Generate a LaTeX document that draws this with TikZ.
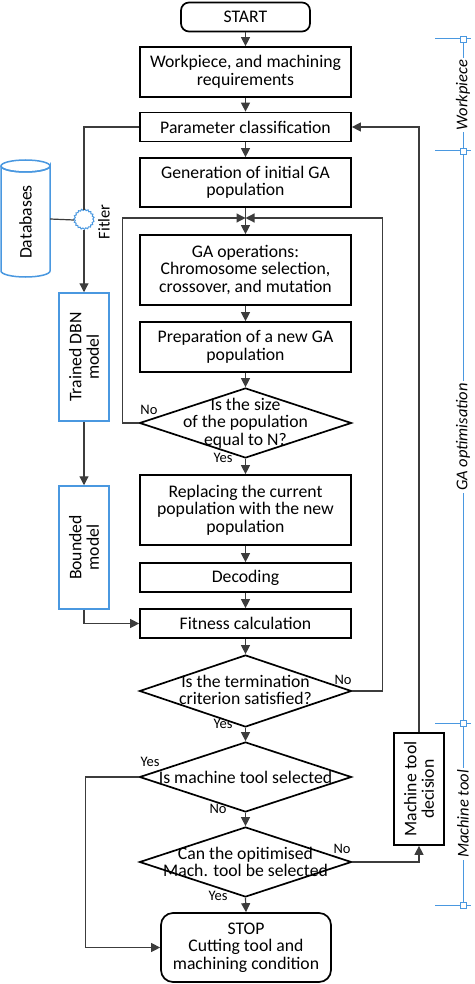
\documentclass[tikz,border=0pt]{standalone}
\usepackage{fontspec}
\setmainfont{Carlito}
\usetikzlibrary{arrows.meta,shapes.geometric,decorations.pathmorphing}
\definecolor{bl}{RGB}{74,152,224}
\definecolor{ln}{RGB}{60,60,60}
\begin{document}
\begin{tikzpicture}[x=1pt,y=-1pt,
  box/.style={draw=black,line width=1.7pt,minimum width=211pt,align=center,inner sep=0pt,font=\fontsize{17.7}{17.5}\selectfont},
  rbox/.style={box,rounded corners=8pt},
  bbox/.style={draw=bl,line width=1.5pt,rotate=90,align=center,minimum height=50pt,inner sep=0pt,font=\fontsize{17.7}{17.5}\selectfont},
  dia/.style={draw=black,line width=1.7pt,diamond,minimum width=212pt,minimum height=70pt,inner sep=0pt},
  dtext/.style={align=center,font=\fontsize{17.7}{17.5}\selectfont,inner sep=0pt},
  lab/.style={font=\fontsize{14.5}{15}\selectfont,inner sep=0pt},
  conn/.style={draw=ln,line width=1.2pt},
  arr/.style={conn,-{Triangle[length=9pt,width=9pt]}},
  tl/.style={draw=bl,line width=1pt},
  tlab/.style={fill=white,rotate=90,font=\fontsize{16.5}{17}\selectfont\itshape,inner sep=2pt},
]
\useasboundingbox (0,0) rectangle (474,984);

% main column
\node[rbox,minimum width=129pt,minimum height=29pt] (start) at (245.5,17) {START};
\node[box,minimum height=50pt] (work) at (245.5,72) {Workpiece, and machining\\requirements};
\node[box,minimum height=29pt] (param) at (245.5,127) {Parameter classification};
\node[box,minimum height=49pt] (gen) at (245.5,182.5) {Generation of initial GA\\population};
\node[box,minimum height=70pt] (gaop) at (245.5,270) {GA operations:\\Chromosome selection,\\crossover, and mutation};
\node[box,minimum height=50pt] (prep) at (245.5,347) {Preparation of a new GA\\population};
\node[dia] (d1) at (245.5,423) {};
\node[dtext] (t1) at (245.5,423) {Is the size\\of the population\\equal to N?};
\node[box,minimum height=70pt] (repl) at (245.5,510) {Replacing the current\\population with the new\\population};
\node[box,minimum height=29pt] (dec) at (245.5,577.5) {Decoding};
\node[box,minimum height=29pt] (fit) at (245.5,623.5) {Fitness calculation};
\node[dia,minimum height=72pt] (d2) at (245.5,691) {};
\node[dtext] (t2) at (245.5,690) {Is the termination\\criterion satisfied?};
\node[dia] (d3) at (245.5,777) {};
\node[dtext] (t3) at (245.5,777) {Is machine tool selected};
\node[dia] (d4) at (245.5,862) {};
\node[dtext] (t4) at (245.5,862) {Can the opitimised\\Mach. tool be selected};
\node[rbox,minimum width=170pt,minimum height=69pt,rounded corners=12pt] (stop) at (246,947.5) {STOP\\Cutting tool and\\machining condition};

% side column
\node[box,rotate=90,minimum width=112pt,minimum height=50pt] (mtd) at (419,789) {Machine tool\\decision};
% database cylinder
\node[minimum width=49pt,minimum height=116pt,inner sep=0pt] (db) at (25.5,219) {};
\draw[bl,line width=1.5pt] (1,166) -- (1,271) arc[start angle=180,end angle=360,x radius=24.5pt,y radius=6pt] -- (50,166)
  arc[start angle=0,end angle=-180,x radius=24.5pt,y radius=6pt];
\draw[bl,line width=1.5pt] (25.5,166) ellipse[x radius=24.5pt,y radius=6pt];
\node[rotate=90,font=\fontsize{17.7}{17.5}\selectfont,inner sep=0pt] (dbt) at (25.5,222) {Databases};
\node[circle,minimum size=20pt,inner sep=0pt] (filt) at (84,220) {};
\draw[bl,line width=1pt,decorate,decoration={snake,amplitude=0.7pt,segment length=3.1pt}] (filt.center) circle[radius=9.5pt];
\node[rotate=90,font=\fontsize{16.5}{17}\selectfont,inner sep=0pt] (fl) at (104,222) {Fitler};
\node[bbox,minimum width=128pt] (dbn) at (84,357) {Trained DBN\\model};
\node[bbox,minimum width=123pt] (bnd) at (84,547.5) {Bounded\\model};

% vertical chain
\draw[arr] (start.south) -- (work.north);
\draw[arr] (work.south) -- (param.north);
\draw[arr] (param.south) -- (gen.north);
\draw[arr] (gen.south) -- (gaop.north);
\draw[arr] (gaop.south) -- (prep.north);
\draw[arr] (prep.south) -- (d1.north);
\draw[arr] (d1.south) -- (repl.north);
\draw[arr] (repl.south) -- (dec.north);
\draw[arr] (dec.south) -- (fit.north);
\draw[arr] (fit.south) -- (d2.north);
\draw[arr] (d2.south) -- (d3.north);
\draw[arr] (d3.south) -- (d4.north);
\draw[arr] (d4.south) -- (stop.north);

% loops
\coordinate (m) at (245.5,218);
\draw[arr] (d1.west) -- ++(-16,0) |- (m);
\draw[arr] (d2.east) -- ++(30.5,0) |- (m);
\draw[arr] (d3.west) -- ++(-53,0) |- (stop.west);
\draw[arr] (d4.east) -| (mtd.west);
\draw[arr] (mtd.east) |- (param.east);
\draw[conn] (param.west) -| (filt.north);
\draw[conn] (db.east) -- (filt.west);
\draw[arr] (filt.south) -- (dbn.east);
\draw[arr] (dbn.west) -- (bnd.east);
\draw[arr] (bnd.west) |- (fit.west);

% labels
\node[lab] (l1) at (149,410) {No};
\node[lab] (l2) at (223,458) {Yes};
\node[lab] (l3) at (343,680) {No};
\node[lab] (l4) at (223,724) {Yes};
\node[lab] (l5) at (150,762) {Yes};
\node[lab] (l6) at (218,809) {No};
\node[lab] (l7) at (342,849) {No};
\node[lab] (l8) at (218,896) {Yes};

% timeline
\draw[tl] (463,39) -- (463,905);
\foreach \yy in {39,151,723,905} {
  \draw[tl] (435,\yy) -- (471,\yy);
  \node[draw=bl,fill=white,line width=0.8pt,minimum size=6pt,inner sep=0pt] at (463,\yy) {};
}
\node[tlab] (tw) at (463,95) {Workpiece};
\node[tlab] (tg) at (463,437) {GA optimisation};
\node[tlab] (tm) at (463,814) {Machine tool};
\end{tikzpicture}
\end{document}
